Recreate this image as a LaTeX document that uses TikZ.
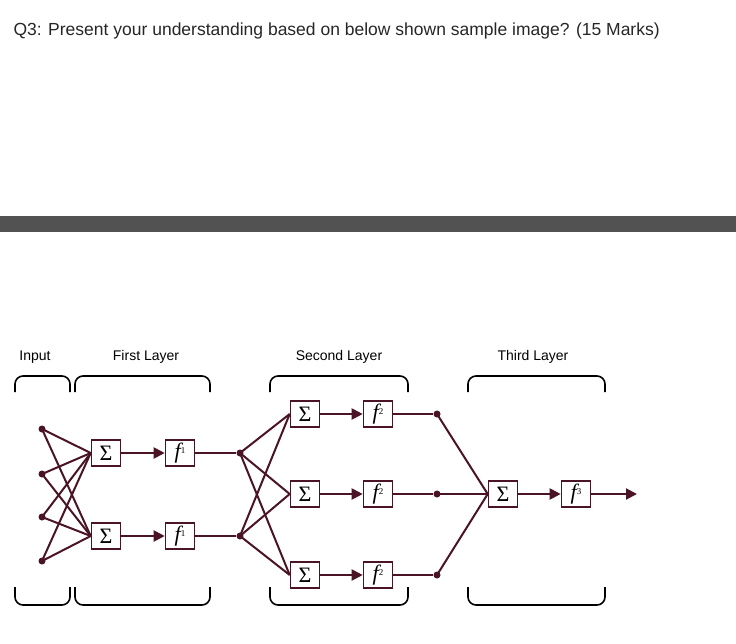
\documentclass[tikz,border=0pt]{standalone}
\usepackage{fontspec}
\setmainfont{Liberation Sans}
\newfontfamily\serf{Liberation Serif}
\usetikzlibrary{arrows.meta}
\definecolor{wine}{HTML}{4A1424}
\newcommand{\fn}[1]{{\serf\itshape f}\raisebox{5pt}{\fontsize{9}{9}\selectfont #1}}
\begin{document}
\begin{tikzpicture}[x=1pt,y=-1pt,
  box/.style={draw=wine,line width=1.6pt,fill=white,minimum width=29pt,minimum height=26pt,inner sep=0pt,font=\fontsize{22}{24}\selectfont\serf},
  dot/.style={circle,fill=wine,inner sep=0pt,minimum size=7pt},
  ln/.style={wine,line width=2pt},
  ar/.style={ln,-{Triangle[length=11pt,width=11pt]}},
  brk/.style={line width=1.6pt,black,rounded corners=8pt},
  lab/.style={font=\fontsize{14}{16}\selectfont}]
\useasboundingbox (0,0) rectangle (736,643);
\node[anchor=west,font=\fontsize{17.5}{20}\selectfont,text=black!85] (q) at (10,31) {Q3: Present your understanding based on below shown sample image? (15 Marks)};
\fill[black!68] (0,216) rectangle (736,232);
\foreach \y [count=\i] in {429,474,517,561} \node[dot] (i\i) at (42,\y) {};
\node[box] (s1) at (106,453) {Σ};
\node[box] (s2) at (106,536) {Σ};
\node[box] (f1) at (180,453) {\fn{1}};
\node[box] (f2) at (180,536) {\fn{1}};
\node[dot] (d1) at (240,453) {};
\node[dot] (d2) at (240,536) {};
\foreach \y [count=\i] in {414,494,575}{
  \node[box] (t\i) at (305,\y) {Σ};
  \node[box] (g\i) at (378,\y) {\fn{2}};
  \node[dot] (e\i) at (437,\y) {};
  \draw[ar] (t\i) -- (g\i);
  \draw[ln] (g\i) -- (e\i);
  \draw[ln] (d1.center) -- (t\i.west);
  \draw[ln] (d2.center) -- (t\i.west);
}
\node[box] (u) at (503,494) {Σ};
\node[box] (h) at (576,494) {\fn{3}};
\coordinate (out) at (637,494);
\foreach \i in {1,2,3} \draw[ln] (e\i.center) -- (u.west);
\draw[ar] (u) -- (h);
\draw[ar] (h) -- (out);
\foreach \i in {1,2,3,4}{\draw[ln] (i\i.center) -- (s1.west); \draw[ln] (i\i.center) -- (s2.west);}
\draw[ar] (s1) -- (f1); \draw[ar] (s2) -- (f2);
\draw[ln] (f1) -- (d1); \draw[ln] (f2) -- (d2);
\foreach \a/\b in {15/70,75/210,270/408,468/605}{
  \draw[brk] (\a,392) -- (\a,376) -- (\b,376) -- (\b,392);
  \draw[brk] (\a,587) -- (\a,605) -- (\b,605) -- (\b,587);
}
\node[lab] (l0) at (35,357) {Input};
\node[lab] (l1) at (146,357) {First Layer};
\node[lab] (l2) at (339,357) {Second Layer};
\node[lab] (l3) at (533,357) {Third Layer};
\end{tikzpicture}
\end{document}
